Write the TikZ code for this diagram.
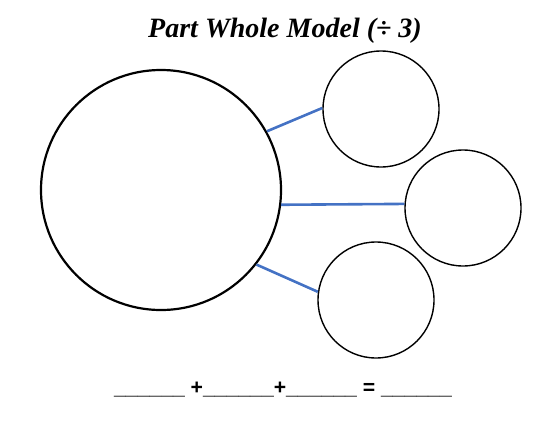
\documentclass[tikz,border=0pt]{standalone}
\usepackage{fontspec}
\setmainfont{Liberation Serif}
\newfontfamily\sumfont{Liberation Sans}
\definecolor{linkblue}{HTML}{4472C4}

\begin{document}
\begin{tikzpicture}[x=0.5pt,y=-0.5pt]
            \tikzset{whole/.style={circle,draw,line width=1.1pt,minimum size=120pt,inner sep=0pt}};
            \tikzset{part/.style={circle,draw,line width=0.7pt,minimum size=58pt,inner sep=0pt}};
            \tikzset{link/.style={draw=linkblue,line width=1.3pt}};
            \useasboundingbox (0,0) rectangle (556,428);
            
            \node[font={\bfseries\itshape\fontsize{14}{16}\selectfont}] (title) at (285,31) {Part Whole Model (÷ 3)};
            
            \node[whole] (big) at (161,190) {};
            \node[part] (top) at (381,109) {};
            \node[part] (mid) at (463,208) {};
            \node[part] (bot) at (376,300) {};
            
            \draw[link] (big.29) -- (top.179);
            \draw[link] (big.-7) -- (mid.176);
            \draw[link] (big.-38) -- (bot.172);
            
            \node[font={\sumfont\bfseries\fontsize{10.6}{13}\selectfont}] (sum) at (283,390) {\_\_\_\_\_\_ +\_\_\_\_\_\_+\_\_\_\_\_\_ = \_\_\_\_\_\_};
        \end{tikzpicture}
\end{document}
